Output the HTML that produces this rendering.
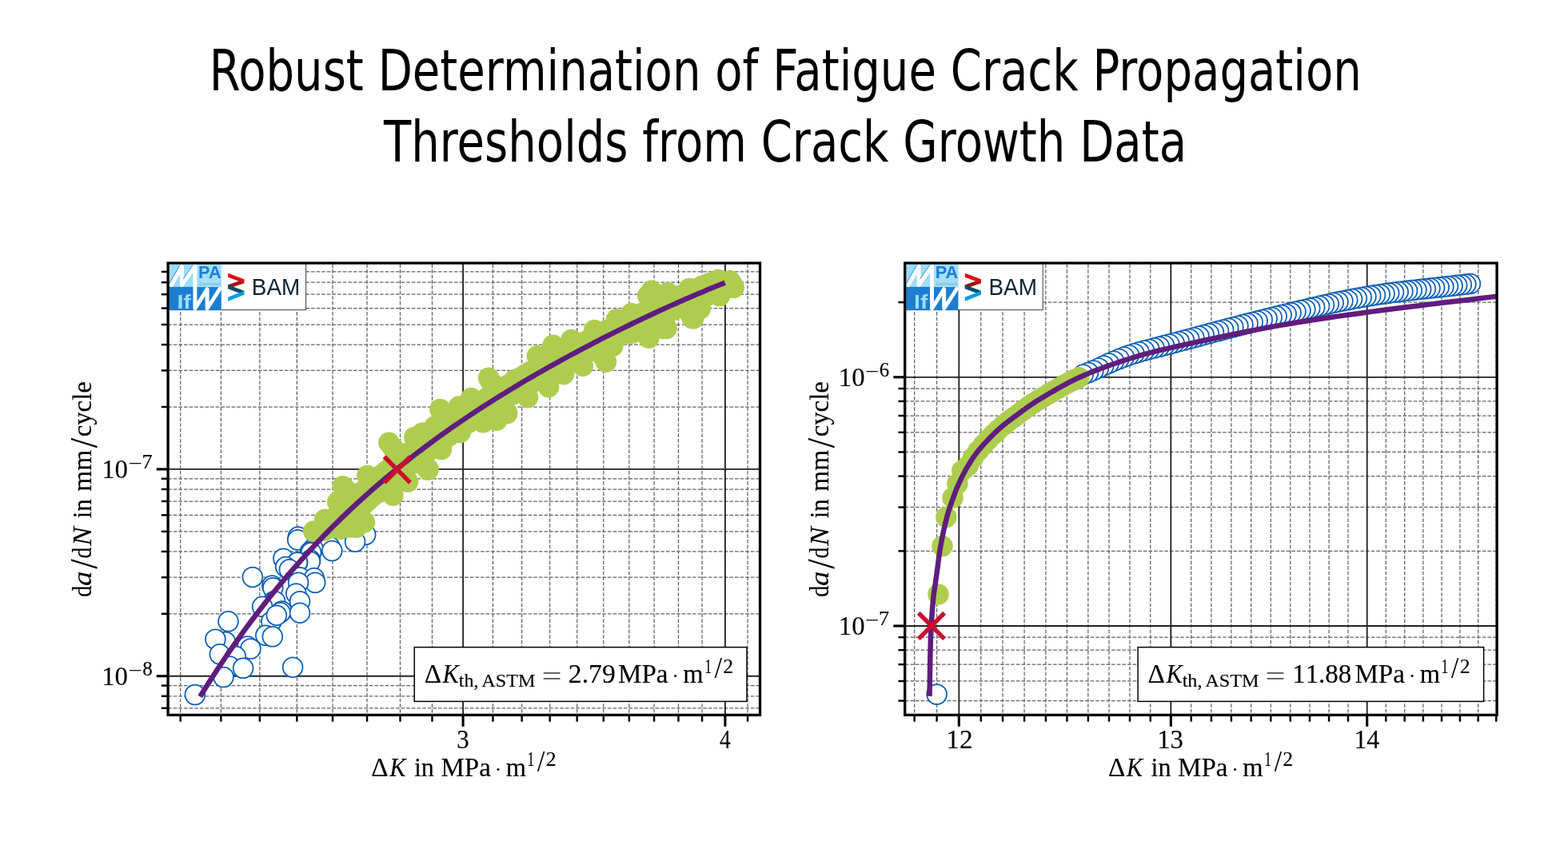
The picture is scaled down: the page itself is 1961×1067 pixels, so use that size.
<!DOCTYPE html>
<html lang="en"><head><meta charset="utf-8"><title>Robust Determination of Fatigue Crack Propagation Thresholds from Crack Growth Data</title>
<style>html,body{margin:0;padding:0;background:#fff;overflow:hidden}svg{display:block}text{white-space:pre}</style></head><body>
<svg width="1961" height="1067" viewBox="0 0 1961 1067" role="img" aria-label="Fatigue crack growth rate plots">
<rect width="1961" height="1067" fill="#fff"/>
<g font-family='"DejaVu Sans", "Liberation Sans", sans-serif' font-size="71" fill="#000">
<text transform="translate(261.72 113.2) scale(0.7901 1)">Robust Determination of Fatigue Crack Propagation</text>
<text transform="translate(480 201.6) scale(0.7898 1)">Thresholds from Crack Growth Data</text>
</g>
<g id="axL">
<svg x="210.1" y="329.05" width="740.4" height="565.35" viewBox="210.1 329.05 740.4 565.35" overflow="hidden">
<g stroke="#626262" stroke-width="1.25" stroke-dasharray="4.625 2" fill="none">
<path d="M225.69 894.4V329.05" stroke-dashoffset="3.825"/>
<path d="M276.34 894.4V329.05" stroke-dashoffset="3.825"/>
<path d="M324.84 894.4V329.05" stroke-dashoffset="3.825"/>
<path d="M371.35 894.4V329.05" stroke-dashoffset="3.825"/>
<path d="M416.04 894.4V329.05" stroke-dashoffset="3.825"/>
<path d="M459.05 894.4V329.05" stroke-dashoffset="3.825"/>
<path d="M500.49 894.4V329.05" stroke-dashoffset="3.825"/>
<path d="M540.47 894.4V329.05" stroke-dashoffset="3.825"/>
<path d="M616.46 894.4V329.05" stroke-dashoffset="3.825"/>
<path d="M652.64 894.4V329.05" stroke-dashoffset="3.825"/>
<path d="M687.7 894.4V329.05" stroke-dashoffset="3.825"/>
<path d="M721.72 894.4V329.05" stroke-dashoffset="3.825"/>
<path d="M754.75 894.4V329.05" stroke-dashoffset="3.825"/>
<path d="M786.85 894.4V329.05" stroke-dashoffset="3.825"/>
<path d="M818.07 894.4V329.05" stroke-dashoffset="3.825"/>
<path d="M848.46 894.4V329.05" stroke-dashoffset="3.825"/>
<path d="M878.05 894.4V329.05" stroke-dashoffset="3.825"/>
<path d="M935.04 894.4V329.05" stroke-dashoffset="3.825"/>
<path d="M210.1 885.81H950.5"/>
<path d="M210.1 870.8H950.5"/>
<path d="M210.1 857.56H950.5"/>
<path d="M210.1 767.81H950.5"/>
<path d="M210.1 722.24H950.5"/>
<path d="M210.1 689.91H950.5"/>
<path d="M210.1 664.83H950.5"/>
<path d="M210.1 644.33H950.5"/>
<path d="M210.1 627.01H950.5"/>
<path d="M210.1 612H950.5"/>
<path d="M210.1 598.76H950.5"/>
<path d="M210.1 509.01H950.5"/>
<path d="M210.1 463.44H950.5"/>
<path d="M210.1 431.11H950.5"/>
<path d="M210.1 406.03H950.5"/>
<path d="M210.1 385.53H950.5"/>
<path d="M210.1 368.21H950.5"/>
<path d="M210.1 353.2H950.5"/>
<path d="M210.1 339.96H950.5"/>
</g>
<g stroke="#222222" stroke-width="1.85" fill="none">
<path d="M579.1 894.4V329.05"/>
<path d="M906.9 894.4V329.05"/>
<path d="M210.1 586.92H950.5"/>
<path d="M210.1 845.72H950.5"/>
</g>
<g fill="#fff" stroke="#0b5eb3" stroke-width="1.75">
<circle cx="457.2" cy="668.75" r="12.4"/>
<circle cx="372.8" cy="671.6" r="12.4"/>
<circle cx="372.2" cy="675.3" r="12.4"/>
<circle cx="444.1" cy="677.7" r="12.4"/>
<circle cx="412.2" cy="683.75" r="12.4"/>
<circle cx="391.6" cy="686.6" r="12.4"/>
<circle cx="415.3" cy="689" r="12.4"/>
<circle cx="387.8" cy="690.3" r="12.4"/>
<circle cx="389.1" cy="691.25" r="12.4"/>
<circle cx="354.4" cy="698.75" r="12.4"/>
<circle cx="388.1" cy="700.6" r="12.4"/>
<circle cx="387.8" cy="702.5" r="12.4"/>
<circle cx="372.2" cy="703.4" r="12.4"/>
<circle cx="371.9" cy="703.4" r="12.4"/>
<circle cx="357.2" cy="709.1" r="12.4"/>
<circle cx="361.9" cy="712.3" r="12.4"/>
<circle cx="315.9" cy="721.9" r="12.4"/>
<circle cx="375" cy="722.2" r="12.4"/>
<circle cx="392.8" cy="723.1" r="12.4"/>
<circle cx="394.2" cy="728.75" r="12.4"/>
<circle cx="373.1" cy="728.75" r="12.4"/>
<circle cx="340.3" cy="732.5" r="12.4"/>
<circle cx="341.3" cy="735.3" r="12.4"/>
<circle cx="370.3" cy="742.5" r="12.4"/>
<circle cx="375" cy="752.2" r="12.4"/>
<circle cx="342.2" cy="752.2" r="12.4"/>
<circle cx="344.1" cy="752.2" r="12.4"/>
<circle cx="328.1" cy="758.8" r="12.4"/>
<circle cx="352.5" cy="764.4" r="12.4"/>
<circle cx="350.6" cy="766.3" r="12.4"/>
<circle cx="375" cy="766.7" r="12.4"/>
<circle cx="285.5" cy="777.3" r="12.4"/>
<circle cx="339.4" cy="777.5" r="12.4"/>
<circle cx="345.9" cy="769.7" r="12.4"/>
<circle cx="332.3" cy="794.8" r="12.4"/>
<circle cx="340.8" cy="796.3" r="12.4"/>
<circle cx="282" cy="803" r="12.4"/>
<circle cx="269.4" cy="799.7" r="12.4"/>
<circle cx="309.5" cy="808.5" r="12.4"/>
<circle cx="313.4" cy="811.5" r="12.4"/>
<circle cx="274.8" cy="818.3" r="12.4"/>
<circle cx="294.7" cy="821" r="12.4"/>
<circle cx="287.2" cy="833.4" r="12.4"/>
<circle cx="366.1" cy="834.7" r="12.4"/>
<circle cx="304.1" cy="835.8" r="12.4"/>
<circle cx="279.5" cy="847" r="12.4"/>
<circle cx="243.9" cy="869" r="12.4"/>
</g>
<g fill="#aecd4f" stroke="#aecd4f" stroke-width="1.75">
<circle cx="912.7" cy="351.29" r="12.4"/>
<circle cx="906.7" cy="353.65" r="12.4"/>
<circle cx="900.7" cy="356.04" r="12.4"/>
<circle cx="898.28" cy="350" r="12.4"/>
<circle cx="903.12" cy="362.07" r="12.4"/>
<circle cx="894.7" cy="358.46" r="12.4"/>
<circle cx="892.26" cy="352.43" r="12.4"/>
<circle cx="897.14" cy="364.48" r="12.4"/>
<circle cx="888.7" cy="360.91" r="12.4"/>
<circle cx="886.23" cy="354.89" r="12.4"/>
<circle cx="891.17" cy="366.92" r="12.4"/>
<circle cx="882.7" cy="363.39" r="12.4"/>
<circle cx="880.2" cy="357.38" r="12.4"/>
<circle cx="885.2" cy="369.39" r="12.4"/>
<circle cx="876.7" cy="365.9" r="12.4"/>
<circle cx="874.18" cy="359.9" r="12.4"/>
<circle cx="879.22" cy="371.89" r="12.4"/>
<circle cx="870.7" cy="368.43" r="12.4"/>
<circle cx="868.16" cy="362.45" r="12.4"/>
<circle cx="873.24" cy="374.42" r="12.4"/>
<circle cx="864.7" cy="371" r="12.4"/>
<circle cx="862.13" cy="365.03" r="12.4"/>
<circle cx="867.27" cy="376.97" r="12.4"/>
<circle cx="858.7" cy="373.6" r="12.4"/>
<circle cx="856.11" cy="367.64" r="12.4"/>
<circle cx="861.29" cy="379.56" r="12.4"/>
<circle cx="852.7" cy="376.22" r="12.4"/>
<circle cx="850.09" cy="370.27" r="12.4"/>
<circle cx="855.31" cy="382.17" r="12.4"/>
<circle cx="846.7" cy="378.87" r="12.4"/>
<circle cx="844.06" cy="372.93" r="12.4"/>
<circle cx="849.34" cy="384.81" r="12.4"/>
<circle cx="840.7" cy="381.54" r="12.4"/>
<circle cx="838.04" cy="375.61" r="12.4"/>
<circle cx="843.36" cy="387.48" r="12.4"/>
<circle cx="834.7" cy="384.25" r="12.4"/>
<circle cx="832.02" cy="378.32" r="12.4"/>
<circle cx="837.38" cy="390.17" r="12.4"/>
<circle cx="828.7" cy="386.97" r="12.4"/>
<circle cx="826" cy="381.06" r="12.4"/>
<circle cx="831.4" cy="392.89" r="12.4"/>
<circle cx="822.7" cy="389.73" r="12.4"/>
<circle cx="819.98" cy="383.83" r="12.4"/>
<circle cx="825.42" cy="395.63" r="12.4"/>
<circle cx="816.7" cy="392.51" r="12.4"/>
<circle cx="813.96" cy="386.62" r="12.4"/>
<circle cx="819.44" cy="398.4" r="12.4"/>
<circle cx="810.7" cy="395.31" r="12.4"/>
<circle cx="807.94" cy="389.43" r="12.4"/>
<circle cx="813.46" cy="401.2" r="12.4"/>
<circle cx="804.7" cy="398.15" r="12.4"/>
<circle cx="801.92" cy="392.27" r="12.4"/>
<circle cx="807.48" cy="404.02" r="12.4"/>
<circle cx="798.7" cy="401" r="12.4"/>
<circle cx="795.9" cy="395.14" r="12.4"/>
<circle cx="801.5" cy="406.87" r="12.4"/>
<circle cx="792.7" cy="403.88" r="12.4"/>
<circle cx="789.88" cy="398.03" r="12.4"/>
<circle cx="795.52" cy="409.74" r="12.4"/>
<circle cx="786.7" cy="406.79" r="12.4"/>
<circle cx="783.86" cy="400.94" r="12.4"/>
<circle cx="789.54" cy="412.63" r="12.4"/>
<circle cx="780.7" cy="409.72" r="12.4"/>
<circle cx="777.84" cy="403.89" r="12.4"/>
<circle cx="783.56" cy="415.56" r="12.4"/>
<circle cx="774.7" cy="412.68" r="12.4"/>
<circle cx="771.82" cy="406.85" r="12.4"/>
<circle cx="777.58" cy="418.5" r="12.4"/>
<circle cx="768.7" cy="415.66" r="12.4"/>
<circle cx="765.8" cy="409.84" r="12.4"/>
<circle cx="771.6" cy="421.48" r="12.4"/>
<circle cx="762.7" cy="418.67" r="12.4"/>
<circle cx="759.78" cy="412.86" r="12.4"/>
<circle cx="765.62" cy="424.47" r="12.4"/>
<circle cx="756.7" cy="421.7" r="12.4"/>
<circle cx="753.76" cy="415.9" r="12.4"/>
<circle cx="759.64" cy="427.5" r="12.4"/>
<circle cx="750.7" cy="424.76" r="12.4"/>
<circle cx="747.74" cy="418.97" r="12.4"/>
<circle cx="753.66" cy="430.54" r="12.4"/>
<circle cx="744.7" cy="427.84" r="12.4"/>
<circle cx="741.72" cy="422.07" r="12.4"/>
<circle cx="747.68" cy="433.62" r="12.4"/>
<circle cx="738.7" cy="430.95" r="12.4"/>
<circle cx="735.7" cy="425.19" r="12.4"/>
<circle cx="741.7" cy="436.72" r="12.4"/>
<circle cx="732.7" cy="434.09" r="12.4"/>
<circle cx="729.68" cy="428.34" r="12.4"/>
<circle cx="735.72" cy="439.85" r="12.4"/>
<circle cx="726.7" cy="437.26" r="12.4"/>
<circle cx="723.66" cy="431.51" r="12.4"/>
<circle cx="729.74" cy="443" r="12.4"/>
<circle cx="720.7" cy="440.45" r="12.4"/>
<circle cx="717.64" cy="434.72" r="12.4"/>
<circle cx="723.76" cy="446.18" r="12.4"/>
<circle cx="714.7" cy="443.67" r="12.4"/>
<circle cx="711.62" cy="437.95" r="12.4"/>
<circle cx="717.78" cy="449.39" r="12.4"/>
<circle cx="708.7" cy="446.92" r="12.4"/>
<circle cx="705.6" cy="441.21" r="12.4"/>
<circle cx="711.8" cy="452.63" r="12.4"/>
<circle cx="702.7" cy="450.19" r="12.4"/>
<circle cx="699.57" cy="444.49" r="12.4"/>
<circle cx="705.83" cy="455.89" r="12.4"/>
<circle cx="696.7" cy="453.5" r="12.4"/>
<circle cx="693.55" cy="447.81" r="12.4"/>
<circle cx="699.85" cy="459.19" r="12.4"/>
<circle cx="690.7" cy="456.84" r="12.4"/>
<circle cx="687.53" cy="451.16" r="12.4"/>
<circle cx="693.87" cy="462.51" r="12.4"/>
<circle cx="684.7" cy="460.2" r="12.4"/>
<circle cx="681.51" cy="454.54" r="12.4"/>
<circle cx="687.89" cy="465.86" r="12.4"/>
<circle cx="678.7" cy="463.6" r="12.4"/>
<circle cx="675.49" cy="457.95" r="12.4"/>
<circle cx="681.91" cy="469.25" r="12.4"/>
<circle cx="672.7" cy="467.03" r="12.4"/>
<circle cx="669.46" cy="461.39" r="12.4"/>
<circle cx="675.94" cy="472.66" r="12.4"/>
<circle cx="666.7" cy="470.49" r="12.4"/>
<circle cx="663.44" cy="464.87" r="12.4"/>
<circle cx="669.96" cy="476.11" r="12.4"/>
<circle cx="660.7" cy="473.98" r="12.4"/>
<circle cx="657.42" cy="468.37" r="12.4"/>
<circle cx="663.98" cy="479.59" r="12.4"/>
<circle cx="654.7" cy="477.51" r="12.4"/>
<circle cx="651.39" cy="471.92" r="12.4"/>
<circle cx="658.01" cy="483.11" r="12.4"/>
<circle cx="648.7" cy="481.08" r="12.4"/>
<circle cx="645.37" cy="475.5" r="12.4"/>
<circle cx="652.03" cy="486.66" r="12.4"/>
<circle cx="642.7" cy="484.68" r="12.4"/>
<circle cx="639.34" cy="479.11" r="12.4"/>
<circle cx="646.06" cy="490.24" r="12.4"/>
<circle cx="636.7" cy="488.31" r="12.4"/>
<circle cx="633.32" cy="482.76" r="12.4"/>
<circle cx="640.08" cy="493.86" r="12.4"/>
<circle cx="630.7" cy="491.99" r="12.4"/>
<circle cx="627.29" cy="486.45" r="12.4"/>
<circle cx="634.11" cy="497.52" r="12.4"/>
<circle cx="624.7" cy="495.7" r="12.4"/>
<circle cx="621.27" cy="490.18" r="12.4"/>
<circle cx="628.13" cy="501.22" r="12.4"/>
<circle cx="618.7" cy="499.45" r="12.4"/>
<circle cx="615.24" cy="493.95" r="12.4"/>
<circle cx="622.16" cy="504.95" r="12.4"/>
<circle cx="612.7" cy="503.24" r="12.4"/>
<circle cx="609.21" cy="497.76" r="12.4"/>
<circle cx="616.19" cy="508.73" r="12.4"/>
<circle cx="606.7" cy="507.08" r="12.4"/>
<circle cx="603.19" cy="501.61" r="12.4"/>
<circle cx="610.21" cy="512.54" r="12.4"/>
<circle cx="600.7" cy="510.95" r="12.4"/>
<circle cx="597.16" cy="505.5" r="12.4"/>
<circle cx="604.24" cy="516.4" r="12.4"/>
<circle cx="594.7" cy="514.87" r="12.4"/>
<circle cx="591.13" cy="509.44" r="12.4"/>
<circle cx="598.27" cy="520.31" r="12.4"/>
<circle cx="588.7" cy="518.84" r="12.4"/>
<circle cx="585.1" cy="513.43" r="12.4"/>
<circle cx="592.3" cy="524.25" r="12.4"/>
<circle cx="582.7" cy="522.85" r="12.4"/>
<circle cx="579.07" cy="517.46" r="12.4"/>
<circle cx="586.33" cy="528.25" r="12.4"/>
<circle cx="576.7" cy="526.91" r="12.4"/>
<circle cx="573.04" cy="521.54" r="12.4"/>
<circle cx="580.36" cy="532.29" r="12.4"/>
<circle cx="570.7" cy="531.02" r="12.4"/>
<circle cx="567.01" cy="525.67" r="12.4"/>
<circle cx="574.39" cy="536.38" r="12.4"/>
<circle cx="564.7" cy="535.18" r="12.4"/>
<circle cx="560.98" cy="529.85" r="12.4"/>
<circle cx="568.42" cy="540.51" r="12.4"/>
<circle cx="558.7" cy="539.4" r="12.4"/>
<circle cx="554.95" cy="534.09" r="12.4"/>
<circle cx="562.45" cy="544.7" r="12.4"/>
<circle cx="552.7" cy="543.66" r="12.4"/>
<circle cx="548.92" cy="538.37" r="12.4"/>
<circle cx="556.48" cy="548.95" r="12.4"/>
<circle cx="546.7" cy="547.98" r="12.4"/>
<circle cx="542.89" cy="542.72" r="12.4"/>
<circle cx="550.51" cy="553.24" r="12.4"/>
<circle cx="540.7" cy="552.36" r="12.4"/>
<circle cx="536.85" cy="547.12" r="12.4"/>
<circle cx="544.55" cy="557.6" r="12.4"/>
<circle cx="534.7" cy="556.79" r="12.4"/>
<circle cx="530.82" cy="551.58" r="12.4"/>
<circle cx="538.58" cy="562.01" r="12.4"/>
<circle cx="528.7" cy="561.28" r="12.4"/>
<circle cx="524.79" cy="556.09" r="12.4"/>
<circle cx="532.61" cy="566.47" r="12.4"/>
<circle cx="522.7" cy="565.84" r="12.4"/>
<circle cx="518.75" cy="560.67" r="12.4"/>
<circle cx="526.65" cy="571" r="12.4"/>
<circle cx="516.7" cy="570.46" r="12.4"/>
<circle cx="512.72" cy="565.32" r="12.4"/>
<circle cx="520.68" cy="575.59" r="12.4"/>
<circle cx="510.7" cy="575.14" r="12.4"/>
<circle cx="506.68" cy="570.03" r="12.4"/>
<circle cx="514.72" cy="580.25" r="12.4"/>
<circle cx="504.7" cy="579.88" r="12.4"/>
<circle cx="500.65" cy="574.8" r="12.4"/>
<circle cx="508.75" cy="584.97" r="12.4"/>
<circle cx="498.7" cy="584.7" r="12.4"/>
<circle cx="494.61" cy="579.64" r="12.4"/>
<circle cx="502.79" cy="589.75" r="12.4"/>
<circle cx="492.7" cy="589.58" r="12.4"/>
<circle cx="488.58" cy="584.56" r="12.4"/>
<circle cx="496.82" cy="594.61" r="12.4"/>
<circle cx="486.7" cy="594.54" r="12.4"/>
<circle cx="482.54" cy="589.54" r="12.4"/>
<circle cx="490.86" cy="599.54" r="12.4"/>
<circle cx="480.7" cy="599.57" r="12.4"/>
<circle cx="476.51" cy="594.6" r="12.4"/>
<circle cx="484.89" cy="604.54" r="12.4"/>
<circle cx="474.7" cy="604.67" r="12.4"/>
<circle cx="470.47" cy="599.74" r="12.4"/>
<circle cx="478.93" cy="609.61" r="12.4"/>
<circle cx="468.7" cy="609.86" r="12.4"/>
<circle cx="464.43" cy="604.95" r="12.4"/>
<circle cx="472.97" cy="614.76" r="12.4"/>
<circle cx="462.7" cy="615.12" r="12.4"/>
<circle cx="458.4" cy="610.25" r="12.4"/>
<circle cx="467" cy="619.99" r="12.4"/>
<circle cx="456.7" cy="620.46" r="12.4"/>
<circle cx="452.36" cy="615.62" r="12.4"/>
<circle cx="461.04" cy="625.3" r="12.4"/>
<circle cx="450.7" cy="625.89" r="12.4"/>
<circle cx="446.32" cy="621.08" r="12.4"/>
<circle cx="455.08" cy="630.69" r="12.4"/>
<circle cx="444.7" cy="631.4" r="12.4"/>
<circle cx="440.28" cy="626.63" r="12.4"/>
<circle cx="449.12" cy="636.17" r="12.4"/>
<circle cx="438.7" cy="636.99" r="12.4"/>
<circle cx="434.25" cy="632.26" r="12.4"/>
<circle cx="443.15" cy="641.73" r="12.4"/>
<circle cx="432.7" cy="642.68" r="12.4"/>
<circle cx="428.21" cy="637.98" r="12.4"/>
<circle cx="437.19" cy="647.38" r="12.4"/>
<circle cx="426.7" cy="648.46" r="12.4"/>
<circle cx="422.17" cy="643.8" r="12.4"/>
<circle cx="431.23" cy="653.13" r="12.4"/>
<circle cx="420.7" cy="654.34" r="12.4"/>
<circle cx="416.13" cy="649.71" r="12.4"/>
<circle cx="425.27" cy="658.96" r="12.4"/>
<circle cx="414.7" cy="660.31" r="12.4"/>
<circle cx="895.5" cy="354.5" r="12.4"/>
<circle cx="877.3" cy="358.3" r="12.4"/>
<circle cx="915.66" cy="355.34" r="12.4"/>
<circle cx="917.7" cy="359.75" r="12.4"/>
<circle cx="864.37" cy="365.54" r="12.4"/>
<circle cx="862.1" cy="360.9" r="12.4"/>
<circle cx="823.22" cy="382.08" r="12.4"/>
<circle cx="820.45" cy="375.96" r="12.4"/>
<circle cx="817.67" cy="369.83" r="12.4"/>
<circle cx="814.9" cy="363.7" r="12.4"/>
<circle cx="839.19" cy="376.17" r="12.4"/>
<circle cx="837.14" cy="371.03" r="12.4"/>
<circle cx="835.1" cy="365.9" r="12.4"/>
<circle cx="816.53" cy="384.09" r="12.4"/>
<circle cx="813.42" cy="377.05" r="12.4"/>
<circle cx="810.3" cy="370" r="12.4"/>
<circle cx="897.92" cy="364" r="12.4"/>
<circle cx="900" cy="370" r="12.4"/>
<circle cx="871.35" cy="374.72" r="12.4"/>
<circle cx="873.52" cy="380.36" r="12.4"/>
<circle cx="875.7" cy="386" r="12.4"/>
<circle cx="791.92" cy="397.62" r="12.4"/>
<circle cx="789.6" cy="392.1" r="12.4"/>
<circle cx="857.78" cy="380.79" r="12.4"/>
<circle cx="860.35" cy="386.46" r="12.4"/>
<circle cx="862.93" cy="392.13" r="12.4"/>
<circle cx="865.5" cy="397.8" r="12.4"/>
<circle cx="859.11" cy="380.52" r="12.4"/>
<circle cx="861.74" cy="386.48" r="12.4"/>
<circle cx="864.37" cy="392.44" r="12.4"/>
<circle cx="867" cy="398.4" r="12.4"/>
<circle cx="773.78" cy="405.7" r="12.4"/>
<circle cx="771.1" cy="399.6" r="12.4"/>
<circle cx="826.87" cy="396.5" r="12.4"/>
<circle cx="830.29" cy="403.63" r="12.4"/>
<circle cx="833.7" cy="410.75" r="12.4"/>
<circle cx="823.81" cy="397.34" r="12.4"/>
<circle cx="826.71" cy="404.12" r="12.4"/>
<circle cx="829.6" cy="410.9" r="12.4"/>
<circle cx="746.5" cy="419.16" r="12.4"/>
<circle cx="743.2" cy="413.1" r="12.4"/>
<circle cx="788.96" cy="411.56" r="12.4"/>
<circle cx="791.3" cy="416.3" r="12.4"/>
<circle cx="787.18" cy="411.97" r="12.4"/>
<circle cx="789" cy="416.5" r="12.4"/>
<circle cx="803.32" cy="405.75" r="12.4"/>
<circle cx="806.05" cy="411.4" r="12.4"/>
<circle cx="808.77" cy="417.05" r="12.4"/>
<circle cx="811.5" cy="422.7" r="12.4"/>
<circle cx="719.44" cy="434.85" r="12.4"/>
<circle cx="717.02" cy="429.88" r="12.4"/>
<circle cx="714.6" cy="424.9" r="12.4"/>
<circle cx="698.3" cy="444.45" r="12.4"/>
<circle cx="695.05" cy="438.08" r="12.4"/>
<circle cx="691.8" cy="431.7" r="12.4"/>
<circle cx="763.13" cy="426.47" r="12.4"/>
<circle cx="766.3" cy="432.9" r="12.4"/>
<circle cx="696.1" cy="446.55" r="12.4"/>
<circle cx="693.2" cy="440.88" r="12.4"/>
<circle cx="690.3" cy="435.2" r="12.4"/>
<circle cx="678.08" cy="456.54" r="12.4"/>
<circle cx="674.94" cy="450.92" r="12.4"/>
<circle cx="671.8" cy="445.3" r="12.4"/>
<circle cx="748.02" cy="434.02" r="12.4"/>
<circle cx="751.31" cy="440.22" r="12.4"/>
<circle cx="754.61" cy="446.41" r="12.4"/>
<circle cx="757.9" cy="452.6" r="12.4"/>
<circle cx="722.51" cy="446.69" r="12.4"/>
<circle cx="725.71" cy="452.2" r="12.4"/>
<circle cx="728.9" cy="457.7" r="12.4"/>
<circle cx="700.18" cy="460.12" r="12.4"/>
<circle cx="703.9" cy="466.6" r="12.4"/>
<circle cx="699.31" cy="458.45" r="12.4"/>
<circle cx="702.15" cy="463.28" r="12.4"/>
<circle cx="705" cy="468.1" r="12.4"/>
<circle cx="621.79" cy="489.67" r="12.4"/>
<circle cx="618.22" cy="484.05" r="12.4"/>
<circle cx="614.66" cy="478.42" r="12.4"/>
<circle cx="611.1" cy="472.8" r="12.4"/>
<circle cx="643.1" cy="475.3" r="12.4"/>
<circle cx="678.62" cy="471.89" r="12.4"/>
<circle cx="682.36" cy="477.99" r="12.4"/>
<circle cx="686.1" cy="484.1" r="12.4"/>
<circle cx="652.98" cy="486.11" r="12.4"/>
<circle cx="656.49" cy="491.6" r="12.4"/>
<circle cx="660" cy="497.1" r="12.4"/>
<circle cx="595.49" cy="507.55" r="12.4"/>
<circle cx="592.29" cy="502.82" r="12.4"/>
<circle cx="589.1" cy="498.1" r="12.4"/>
<circle cx="580.29" cy="517.74" r="12.4"/>
<circle cx="577.15" cy="513.12" r="12.4"/>
<circle cx="574" cy="508.5" r="12.4"/>
<circle cx="561.85" cy="528.86" r="12.4"/>
<circle cx="558.03" cy="523.21" r="12.4"/>
<circle cx="554.22" cy="517.55" r="12.4"/>
<circle cx="550.4" cy="511.9" r="12.4"/>
<circle cx="625.76" cy="504.11" r="12.4"/>
<circle cx="629.98" cy="510.56" r="12.4"/>
<circle cx="634.2" cy="517" r="12.4"/>
<circle cx="612.96" cy="512.37" r="12.4"/>
<circle cx="617.08" cy="519.03" r="12.4"/>
<circle cx="621.2" cy="525.7" r="12.4"/>
<circle cx="598.01" cy="519.28" r="12.4"/>
<circle cx="601.16" cy="523.79" r="12.4"/>
<circle cx="604.3" cy="528.3" r="12.4"/>
<circle cx="547.7" cy="538.94" r="12.4"/>
<circle cx="543.7" cy="533.5" r="12.4"/>
<circle cx="572.54" cy="536.39" r="12.4"/>
<circle cx="575.6" cy="540.9" r="12.4"/>
<circle cx="534.62" cy="550.17" r="12.4"/>
<circle cx="531.51" cy="545.78" r="12.4"/>
<circle cx="528.4" cy="541.4" r="12.4"/>
<circle cx="525.36" cy="556.46" r="12.4"/>
<circle cx="521.88" cy="551.73" r="12.4"/>
<circle cx="518.4" cy="547" r="12.4"/>
<circle cx="501.08" cy="572.58" r="12.4"/>
<circle cx="496.19" cy="566.29" r="12.4"/>
<circle cx="491.29" cy="559.99" r="12.4"/>
<circle cx="486.4" cy="553.7" r="12.4"/>
<circle cx="545.17" cy="556.12" r="12.4"/>
<circle cx="548.8" cy="560.5" r="12.4"/>
<circle cx="548.04" cy="555.95" r="12.4"/>
<circle cx="552" cy="562" r="12.4"/>
<circle cx="523.83" cy="572.71" r="12.4"/>
<circle cx="527.72" cy="577.48" r="12.4"/>
<circle cx="531.61" cy="582.24" r="12.4"/>
<circle cx="535.5" cy="587" r="12.4"/>
<circle cx="523.78" cy="572.84" r="12.4"/>
<circle cx="527.62" cy="577.73" r="12.4"/>
<circle cx="531.46" cy="582.61" r="12.4"/>
<circle cx="535.3" cy="587.5" r="12.4"/>
<circle cx="466.74" cy="603.91" r="12.4"/>
<circle cx="463.07" cy="599.46" r="12.4"/>
<circle cx="459.4" cy="595" r="12.4"/>
<circle cx="501.39" cy="591.54" r="12.4"/>
<circle cx="505.69" cy="597.07" r="12.4"/>
<circle cx="510" cy="602.6" r="12.4"/>
<circle cx="442.92" cy="623.62" r="12.4"/>
<circle cx="438.28" cy="618.48" r="12.4"/>
<circle cx="433.64" cy="613.34" r="12.4"/>
<circle cx="429" cy="608.2" r="12.4"/>
<circle cx="481.64" cy="608.44" r="12.4"/>
<circle cx="486.52" cy="613.97" r="12.4"/>
<circle cx="491.4" cy="619.5" r="12.4"/>
<circle cx="430.67" cy="636.38" r="12.4"/>
<circle cx="426.49" cy="632.14" r="12.4"/>
<circle cx="422.3" cy="627.9" r="12.4"/>
<circle cx="411.05" cy="654.5" r="12.4"/>
<circle cx="406.3" cy="649.8" r="12.4"/>
<circle cx="445.29" cy="641.62" r="12.4"/>
<circle cx="450.65" cy="647.41" r="12.4"/>
<circle cx="456" cy="653.2" r="12.4"/>
<circle cx="432.37" cy="653.67" r="12.4"/>
<circle cx="437.5" cy="659.4" r="12.4"/>
<circle cx="436" cy="649.34" r="12.4"/>
<circle cx="440.95" cy="654.42" r="12.4"/>
<circle cx="445.9" cy="659.5" r="12.4"/>
<circle cx="422.61" cy="658.55" r="12.4"/>
<circle cx="425.6" cy="661.7" r="12.4"/>
<circle cx="405.4" cy="663.55" r="12.4"/>
<circle cx="398.8" cy="664.08" r="12.4"/>
<circle cx="392.2" cy="664.6" r="12.4"/>
</g>
<path d="M250.2 871.39L255.72 862.51L261.23 853.78L266.75 845.2L272.27 836.75L277.78 828.45L283.3 820.28L288.82 812.25L294.33 804.34L299.85 796.57L305.37 788.93L310.88 781.41L316.4 774.01L321.92 766.73L327.44 759.57L332.95 752.53L338.47 745.6L343.99 738.78L349.5 732.07L355.02 725.47L360.54 718.97L366.05 712.58L371.57 706.28L377.09 700.08L382.6 693.98L388.12 687.98L393.64 682.07L399.15 676.24L404.67 670.51L410.19 664.86L415.7 659.3L421.22 653.82L426.74 648.43L432.25 643.11L437.77 637.87L443.29 632.71L448.81 627.62L454.32 622.6L459.84 617.65L465.36 612.78L470.87 607.97L476.39 603.23L481.91 598.55L487.42 593.94L492.94 589.39L498.46 584.9L503.97 580.46L509.49 576.09L515.01 571.77L520.52 567.51L526.04 563.3L531.56 559.14L537.07 555.03L542.59 550.97L548.11 546.96L553.62 543L559.14 539.08L564.66 535.21L570.17 531.39L575.69 527.6L581.21 523.86L586.73 520.16L592.24 516.49L597.76 512.87L603.28 509.28L608.79 505.73L614.31 502.22L619.83 498.74L625.34 495.3L630.86 491.89L636.38 488.51L641.89 485.16L647.41 481.85L652.93 478.56L658.44 475.31L663.96 472.08L669.48 468.88L674.99 465.71L680.51 462.57L686.03 459.45L691.54 456.36L697.06 453.3L702.58 450.26L708.09 447.25L713.61 444.26L719.13 441.29L724.65 438.35L730.16 435.43L735.68 432.53L741.2 429.66L746.71 426.81L752.23 423.98L757.75 421.17L763.26 418.38L768.78 415.62L774.3 412.88L779.81 410.16L785.33 407.46L790.85 404.78L796.36 402.12L801.88 399.48L807.4 396.87L812.91 394.28L818.43 391.7L823.95 389.15L829.46 386.63L834.98 384.12L840.5 381.63L846.02 379.17L851.53 376.73L857.05 374.31L862.57 371.92L868.08 369.55L873.6 367.2L879.12 364.88L884.63 362.58L890.15 360.31L895.67 358.06L901.18 355.84L906.7 353.65" fill="none" stroke="#5f1d7d" stroke-width="6.5" stroke-linejoin="round"/>
<path d="M480.6 571.3L513 603.7M480.6 603.7L513 571.3" fill="none" stroke="#c8102e" stroke-width="5.5"/>
</svg>
<g id="logo">
<rect x="210.1" y="329.05" width="172.5" height="58.6" fill="#fff" stroke="#4d4d4d" stroke-width="1.1"/>
<rect x="211.6" y="330.45" width="65.2" height="28.6" fill="#9edcf8"/>
<rect x="211.6" y="358.85" width="65.2" height="29.0" fill="#1c7ed0"/>
<rect x="243.8" y="330.45" width="33.0" height="28.6" fill="#a4def9"/>
<path d="M214.4 356.65L227.5 333.45L227.5 356.65L243.9 333.05L243.9 386.05L259.1 361.65L259.1 386.05L275 361.25" stroke="#fff" stroke-width="4.9" fill="none" stroke-linejoin="round" stroke-linecap="round"/>
<path d="M211.5 355.05L224.6 331.85M228.8 349.25L241.1 331.45" stroke="#3592de" stroke-width="0.9" fill="none"/>
<text x="248.1" y="347.65" font-family='"Liberation Sans", "DejaVu Sans", sans-serif' font-weight="bold" font-size="21.3" fill="#1c7ed0" textLength="28.6" lengthAdjust="spacingAndGlyphs">PA</text>
<text x="249.4" y="357.25" font-family='"Liberation Sans", "DejaVu Sans", sans-serif' font-size="5.4" fill="#6fb2e6" textLength="27" lengthAdjust="spacingAndGlyphs">Darmstadt</text>
<text x="221.4" y="386.45" font-family='"Liberation Sans", "DejaVu Sans", sans-serif' font-weight="bold" font-size="24.5" fill="#9edcf8" textLength="17.5" lengthAdjust="spacingAndGlyphs">If</text>
<path d="M305.3 349.25L305.3 354.15L285.2 361.25L285.2 356.35Z" fill="#9b1915"/>
<path d="M285.2 341.85L305.3 349.25L305.3 354.15L285.2 346.75Z" fill="#e30613"/>
<path d="M285.2 356.35L305.3 363.75L305.3 368.75L285.2 361.25Z" fill="#004f6b"/>
<path d="M305.3 363.75L305.3 368.75L285.2 376.75L285.2 371.85Z" fill="#009ee0"/>
<text x="314.8" y="369.35" font-family='"Liberation Sans", "DejaVu Sans", sans-serif' font-size="29.2" fill="#0b2532" textLength="60.5" lengthAdjust="spacingAndGlyphs">BAM</text>
</g>
<rect x="518.25" y="809.6" width="415.75" height="67.8" fill="#fff" stroke="#000" stroke-width="1.5"/>
<g font-family='"Liberation Serif", "DejaVu Serif", serif' fill="#000" stroke="#000" stroke-width="0.14" style="font-kerning:none">
<text transform="translate(530.68 853.7) scale(1.0156 1)" font-size="32.8">Δ</text>
<text transform="translate(553.61 853.7) scale(0.9294 1)" font-size="32.8" font-style="italic">K</text>
<text transform="translate(573.81 858.9) scale(1.0118 1)" font-size="23.8">th,</text>
<text transform="translate(602.31 858.9) scale(1.0185 1)" font-size="23.8">ASTM</text>
<text transform="translate(677.27 857.4) scale(1.3955 1)" font-size="32.8" stroke="#fff" stroke-width="0.36">=</text>
<text transform="translate(710.82 853.7) scale(1.0088 1)" font-size="33.4">2.79</text>
<text transform="translate(773.05 853.7) scale(1.0087 1)" font-size="32.8">MPa</text>
<text transform="translate(840.33 854.1) scale(1.0090 1)" font-size="26">·</text>
<text transform="translate(854.32 853.7) scale(0.9913 1)" font-size="32.8">m</text>
<text transform="translate(881.15 841.5) scale(0.7016 1)" font-size="25.1">1</text>
<text transform="translate(893.13 845.04) scale(1.0246 1)" font-family='"DejaVu Sans", "Liberation Sans", sans-serif' font-weight="200" font-size="29.69">/</text>
<text transform="translate(904.37 841.5) scale(1.0236 1)" font-size="25.1">2</text>
</g>
<rect x="210.1" y="329.05" width="740.4" height="565.35" fill="none" stroke="#000" stroke-width="3.3" stroke-linejoin="miter"/>
<g stroke="#000" stroke-width="2.45" fill="none">
<path d="M225.69 894.4v8.3"/>
<path d="M276.34 894.4v8.3"/>
<path d="M324.84 894.4v8.3"/>
<path d="M371.35 894.4v8.3"/>
<path d="M416.04 894.4v8.3"/>
<path d="M459.05 894.4v8.3"/>
<path d="M500.49 894.4v8.3"/>
<path d="M540.47 894.4v8.3"/>
<path d="M616.46 894.4v8.3"/>
<path d="M652.64 894.4v8.3"/>
<path d="M687.7 894.4v8.3"/>
<path d="M721.72 894.4v8.3"/>
<path d="M754.75 894.4v8.3"/>
<path d="M786.85 894.4v8.3"/>
<path d="M818.07 894.4v8.3"/>
<path d="M848.46 894.4v8.3"/>
<path d="M878.05 894.4v8.3"/>
<path d="M935.04 894.4v8.3"/>
<path d="M210.1 885.81h-8.3"/>
<path d="M210.1 870.8h-8.3"/>
<path d="M210.1 857.56h-8.3"/>
<path d="M210.1 767.81h-8.3"/>
<path d="M210.1 722.24h-8.3"/>
<path d="M210.1 689.91h-8.3"/>
<path d="M210.1 664.83h-8.3"/>
<path d="M210.1 644.33h-8.3"/>
<path d="M210.1 627.01h-8.3"/>
<path d="M210.1 612h-8.3"/>
<path d="M210.1 598.76h-8.3"/>
<path d="M210.1 509.01h-8.3"/>
<path d="M210.1 463.44h-8.3"/>
<path d="M210.1 431.11h-8.3"/>
<path d="M210.1 406.03h-8.3"/>
<path d="M210.1 385.53h-8.3"/>
<path d="M210.1 368.21h-8.3"/>
<path d="M210.1 353.2h-8.3"/>
<path d="M210.1 339.96h-8.3"/>
</g>
<g stroke="#000" stroke-width="3.1" fill="none">
<path d="M579.1 894.4v14.4"/>
<path d="M906.9 894.4v14.4"/>
<path d="M210.1 586.92h-14.4"/>
<path d="M210.1 845.72h-14.4"/>
</g>
<g font-family='"Liberation Serif", "DejaVu Serif", serif' fill="#000" stroke="#000" stroke-width="0.14" style="font-kerning:none">
<text transform="translate(571.22 936.1) scale(0.9060 1)" font-size="34.2">3</text>
<text transform="translate(899.96 936.1) scale(0.8052 1)" font-size="34.2">4</text>
<text transform="translate(127.21 598.22) scale(0.9715 1)" font-size="33.8">10</text>
<text transform="translate(160.7 588.22) scale(1.1986 1)" font-size="25.1">−</text>
<text transform="translate(177.38 586.02) scale(1.0420 1)" font-size="25.1">7</text>
<text transform="translate(127.21 857.02) scale(0.9715 1)" font-size="33.8">10</text>
<text transform="translate(160.7 847.02) scale(1.1986 1)" font-size="25.1">−</text>
<text transform="translate(178.15 844.82) scale(0.9964 1)" font-size="25.1">8</text>
</g>
<g font-family='"Liberation Serif", "DejaVu Serif", serif' fill="#000" stroke="#000" stroke-width="0.14" style="font-kerning:none">
<text transform="translate(464.33 970.6) scale(1.0156 1)" font-size="32.8">Δ</text>
<text transform="translate(487.26 970.6) scale(0.9294 1)" font-size="32.8" font-style="italic">K</text>
<text transform="translate(517.92 970.6) scale(0.9824 1)" font-size="32.8">in</text>
<text transform="translate(551.45 970.6) scale(1.0087 1)" font-size="32.8">MPa</text>
<text transform="translate(618.73 971) scale(1.0090 1)" font-size="26">·</text>
<text transform="translate(632.72 970.6) scale(0.9913 1)" font-size="32.8">m</text>
<text transform="translate(659.55 958.4) scale(0.7016 1)" font-size="25.1">1</text>
<text transform="translate(671.53 961.94) scale(1.0246 1)" font-family='"DejaVu Sans", "Liberation Sans", sans-serif' font-weight="200" font-size="29.69">/</text>
<text transform="translate(682.77 958.4) scale(1.0236 1)" font-size="25.1">2</text>
</g>
<g font-family='"Liberation Serif", "DejaVu Serif", serif' fill="#000" stroke="#000" stroke-width="0.14" style="font-kerning:none" transform="translate(114.2 746.4) rotate(-90)">
<text transform="translate(-0.42 0) scale(0.8640 1)" font-size="32.8">d</text>
<text transform="translate(13.5 0) scale(1.1276 1)" font-size="32.8" font-style="italic">a</text>
<text transform="translate(34.29 3.85) scale(0.9987 1)" font-family='"DejaVu Sans", "Liberation Sans", sans-serif' font-weight="200" font-size="39.3">/</text>
<text transform="translate(47.89 0) scale(0.8505 1)" font-size="32.8">d</text>
<text transform="translate(63.76 0) scale(1.0830 1)" font-size="32.8" font-style="italic">N</text>
<text transform="translate(98.05 0) scale(0.9372 1)" font-size="32.8">in</text>
<text transform="translate(131.7 0) scale(1.0216 1)" font-size="32.8">mm</text>
<text transform="translate(185.68 3.85) scale(1.0071 1)" font-family='"DejaVu Sans", "Liberation Sans", sans-serif' font-weight="200" font-size="39.3">/</text>
<text transform="translate(200.05 0) scale(1.0000 1)" font-size="32.8">cycle</text>
</g>
</g>
<g id="axR">
<svg x="1131.7" y="329.05" width="740.4" height="565.35" viewBox="1131.7 329.05 740.4 565.35" overflow="hidden">
<g stroke="#626262" stroke-width="1.25" stroke-dasharray="4.625 2" fill="none">
<path d="M1143.65 894.4V329.05" stroke-dashoffset="3.825"/>
<path d="M1171.59 894.4V329.05" stroke-dashoffset="3.825"/>
<path d="M1226.78 894.4V329.05" stroke-dashoffset="3.825"/>
<path d="M1254.03 894.4V329.05" stroke-dashoffset="3.825"/>
<path d="M1281.06 894.4V329.05" stroke-dashoffset="3.825"/>
<path d="M1307.87 894.4V329.05" stroke-dashoffset="3.825"/>
<path d="M1334.46 894.4V329.05" stroke-dashoffset="3.825"/>
<path d="M1360.85 894.4V329.05" stroke-dashoffset="3.825"/>
<path d="M1387.02 894.4V329.05" stroke-dashoffset="3.825"/>
<path d="M1412.99 894.4V329.05" stroke-dashoffset="3.825"/>
<path d="M1438.76 894.4V329.05" stroke-dashoffset="3.825"/>
<path d="M1489.7 894.4V329.05" stroke-dashoffset="3.825"/>
<path d="M1514.88 894.4V329.05" stroke-dashoffset="3.825"/>
<path d="M1539.87 894.4V329.05" stroke-dashoffset="3.825"/>
<path d="M1564.67 894.4V329.05" stroke-dashoffset="3.825"/>
<path d="M1589.29 894.4V329.05" stroke-dashoffset="3.825"/>
<path d="M1613.72 894.4V329.05" stroke-dashoffset="3.825"/>
<path d="M1637.98 894.4V329.05" stroke-dashoffset="3.825"/>
<path d="M1662.06 894.4V329.05" stroke-dashoffset="3.825"/>
<path d="M1685.97 894.4V329.05" stroke-dashoffset="3.825"/>
<path d="M1733.27 894.4V329.05" stroke-dashoffset="3.825"/>
<path d="M1756.67 894.4V329.05" stroke-dashoffset="3.825"/>
<path d="M1779.9 894.4V329.05" stroke-dashoffset="3.825"/>
<path d="M1802.98 894.4V329.05" stroke-dashoffset="3.825"/>
<path d="M1825.89 894.4V329.05" stroke-dashoffset="3.825"/>
<path d="M1848.65 894.4V329.05" stroke-dashoffset="3.825"/>
<path d="M1871.25 894.4V329.05" stroke-dashoffset="3.825"/>
<path d="M1131.7 876.62H1872.1"/>
<path d="M1131.7 851.98H1872.1"/>
<path d="M1131.7 831.15H1872.1"/>
<path d="M1131.7 813.1H1872.1"/>
<path d="M1131.7 797.19H1872.1"/>
<path d="M1131.7 689.28H1872.1"/>
<path d="M1131.7 634.49H1872.1"/>
<path d="M1131.7 595.62H1872.1"/>
<path d="M1131.7 565.47H1872.1"/>
<path d="M1131.7 540.83H1872.1"/>
<path d="M1131.7 520H1872.1"/>
<path d="M1131.7 501.95H1872.1"/>
<path d="M1131.7 486.04H1872.1"/>
<path d="M1131.7 378.13H1872.1"/>
</g>
<g stroke="#222222" stroke-width="1.85" fill="none">
<path d="M1199.3 894.4V329.05"/>
<path d="M1464.33 894.4V329.05"/>
<path d="M1709.7 894.4V329.05"/>
<path d="M1131.7 471.8H1872.1"/>
<path d="M1131.7 782.95H1872.1"/>
</g>
<g fill="#fff" stroke="#0b5eb3" stroke-width="1.75">
<circle cx="1838.88" cy="354.9" r="12.4"/>
<circle cx="1833.32" cy="355.57" r="12.4"/>
<circle cx="1827.74" cy="356.23" r="12.4"/>
<circle cx="1822.16" cy="356.86" r="12.4"/>
<circle cx="1816.56" cy="357.49" r="12.4"/>
<circle cx="1810.96" cy="358.11" r="12.4"/>
<circle cx="1805.35" cy="358.73" r="12.4"/>
<circle cx="1799.72" cy="359.33" r="12.4"/>
<circle cx="1794.09" cy="359.94" r="12.4"/>
<circle cx="1788.45" cy="360.55" r="12.4"/>
<circle cx="1782.8" cy="361.17" r="12.4"/>
<circle cx="1777.14" cy="361.79" r="12.4"/>
<circle cx="1771.47" cy="362.42" r="12.4"/>
<circle cx="1765.78" cy="363.07" r="12.4"/>
<circle cx="1760.09" cy="363.73" r="12.4"/>
<circle cx="1754.39" cy="364.41" r="12.4"/>
<circle cx="1748.68" cy="365.11" r="12.4"/>
<circle cx="1742.96" cy="365.84" r="12.4"/>
<circle cx="1737.23" cy="366.6" r="12.4"/>
<circle cx="1731.5" cy="367.38" r="12.4"/>
<circle cx="1725.75" cy="368.22" r="12.4"/>
<circle cx="1719.99" cy="369.07" r="12.4"/>
<circle cx="1714.22" cy="370" r="12.4"/>
<circle cx="1708.44" cy="370.96" r="12.4"/>
<circle cx="1702.65" cy="371.97" r="12.4"/>
<circle cx="1696.85" cy="373.02" r="12.4"/>
<circle cx="1691.04" cy="374.11" r="12.4"/>
<circle cx="1685.22" cy="375.25" r="12.4"/>
<circle cx="1679.39" cy="376.41" r="12.4"/>
<circle cx="1673.55" cy="377.63" r="12.4"/>
<circle cx="1667.69" cy="378.87" r="12.4"/>
<circle cx="1661.83" cy="380.15" r="12.4"/>
<circle cx="1655.96" cy="381.46" r="12.4"/>
<circle cx="1650.08" cy="382.79" r="12.4"/>
<circle cx="1644.19" cy="384.16" r="12.4"/>
<circle cx="1638.28" cy="385.54" r="12.4"/>
<circle cx="1632.37" cy="386.94" r="12.4"/>
<circle cx="1626.44" cy="388.36" r="12.4"/>
<circle cx="1620.51" cy="389.79" r="12.4"/>
<circle cx="1614.56" cy="391.23" r="12.4"/>
<circle cx="1608.61" cy="392.67" r="12.4"/>
<circle cx="1602.64" cy="394.12" r="12.4"/>
<circle cx="1596.66" cy="395.57" r="12.4"/>
<circle cx="1590.67" cy="397.02" r="12.4"/>
<circle cx="1584.67" cy="398.48" r="12.4"/>
<circle cx="1578.66" cy="399.97" r="12.4"/>
<circle cx="1572.64" cy="401.48" r="12.4"/>
<circle cx="1566.61" cy="403.01" r="12.4"/>
<circle cx="1560.56" cy="404.55" r="12.4"/>
<circle cx="1554.51" cy="406.11" r="12.4"/>
<circle cx="1548.44" cy="407.68" r="12.4"/>
<circle cx="1542.37" cy="409.26" r="12.4"/>
<circle cx="1536.28" cy="410.86" r="12.4"/>
<circle cx="1530.18" cy="412.46" r="12.4"/>
<circle cx="1524.07" cy="414.08" r="12.4"/>
<circle cx="1517.95" cy="415.7" r="12.4"/>
<circle cx="1511.82" cy="417.33" r="12.4"/>
<circle cx="1505.67" cy="418.97" r="12.4"/>
<circle cx="1499.52" cy="420.62" r="12.4"/>
<circle cx="1493.35" cy="422.27" r="12.4"/>
<circle cx="1487.17" cy="423.92" r="12.4"/>
<circle cx="1480.98" cy="425.57" r="12.4"/>
<circle cx="1474.78" cy="427.23" r="12.4"/>
<circle cx="1468.56" cy="428.88" r="12.4"/>
<circle cx="1462.34" cy="430.52" r="12.4"/>
<circle cx="1456.1" cy="432.14" r="12.4"/>
<circle cx="1449.85" cy="433.74" r="12.4"/>
<circle cx="1443.59" cy="435.35" r="12.4"/>
<circle cx="1437.32" cy="436.96" r="12.4"/>
<circle cx="1431.04" cy="438.62" r="12.4"/>
<circle cx="1424.74" cy="440.38" r="12.4"/>
<circle cx="1418.43" cy="442.25" r="12.4"/>
<circle cx="1412.11" cy="444.29" r="12.4"/>
<circle cx="1405.78" cy="446.51" r="12.4"/>
<circle cx="1399.43" cy="448.99" r="12.4"/>
<circle cx="1393.08" cy="451.66" r="12.4"/>
<circle cx="1386.71" cy="454.5" r="12.4"/>
<circle cx="1380.33" cy="457.45" r="12.4"/>
<circle cx="1373.93" cy="460.46" r="12.4"/>
<circle cx="1367.53" cy="463.4" r="12.4"/>
<circle cx="1361.11" cy="466.11" r="12.4"/>
<circle cx="1354.68" cy="468.59" r="12.4"/>
<circle cx="1171.6" cy="868.5" r="12.4"/>
</g>
<g fill="#aecd4f" stroke="#aecd4f" stroke-width="1.75">
<circle cx="1349.4" cy="472.28" r="12.4"/>
<circle cx="1343.1" cy="475.28" r="12.4"/>
<circle cx="1336.8" cy="478.46" r="12.4"/>
<circle cx="1330.5" cy="481.81" r="12.4"/>
<circle cx="1324.2" cy="485.3" r="12.4"/>
<circle cx="1317.9" cy="488.91" r="12.4"/>
<circle cx="1311.6" cy="492.62" r="12.4"/>
<circle cx="1305.3" cy="496.4" r="12.4"/>
<circle cx="1299" cy="500.21" r="12.4"/>
<circle cx="1292.7" cy="504.18" r="12.4"/>
<circle cx="1286.4" cy="508.41" r="12.4"/>
<circle cx="1280.1" cy="512.9" r="12.4"/>
<circle cx="1273.8" cy="517.57" r="12.4"/>
<circle cx="1267.5" cy="522.25" r="12.4"/>
<circle cx="1261.2" cy="526.97" r="12.4"/>
<circle cx="1254.9" cy="531.94" r="12.4"/>
<circle cx="1248.6" cy="537.4" r="12.4"/>
<circle cx="1242.3" cy="543.38" r="12.4"/>
<circle cx="1236" cy="549.78" r="12.4"/>
<circle cx="1229.7" cy="556.58" r="12.4"/>
<circle cx="1223.4" cy="563.95" r="12.4"/>
<circle cx="1217.1" cy="572.42" r="12.4"/>
<circle cx="1210.8" cy="582.37" r="12.4"/>
<circle cx="1203.3" cy="588.9" r="12.4"/>
<circle cx="1197.4" cy="605" r="12.4"/>
<circle cx="1191.5" cy="622.7" r="12.4"/>
<circle cx="1183.4" cy="646.8" r="12.4"/>
<circle cx="1178.5" cy="683.1" r="12.4"/>
<circle cx="1173.5" cy="743.4" r="12.4"/>
</g>
<path d="M1162.5 870.9L1162.58 866.17L1162.66 861.31L1162.75 856.36L1162.83 851.38L1162.91 846.4L1162.99 841.46L1163.07 836.6L1163.15 831.86L1163.24 827.29L1163.32 822.93L1163.41 818.82L1163.5 815L1163.59 811.5L1163.67 808.3L1163.76 805.34L1163.84 802.6L1163.93 800.02L1164.01 797.57L1164.1 795.19L1164.2 792.86L1164.31 790.51L1164.43 788.11L1164.56 785.63L1164.7 783L1164.85 780.28L1165.01 777.52L1165.18 774.75L1165.35 771.96L1165.53 769.17L1165.72 766.38L1165.92 763.59L1166.13 760.81L1166.35 758.06L1166.59 755.34L1166.84 752.65L1167.1 750L1167.38 747.42L1167.67 744.9L1167.98 742.44L1168.3 740.02L1168.64 737.62L1168.98 735.22L1169.33 732.81L1169.7 730.37L1170.06 727.89L1170.44 725.34L1170.82 722.72L1171.2 720L1171.58 717.18L1171.96 714.28L1172.35 711.31L1172.73 708.28L1173.13 705.2L1173.53 702.09L1173.95 698.97L1174.38 695.83L1174.83 692.71L1175.29 689.6L1175.78 686.53L1176.3 683.5L1176.85 680.47L1177.42 677.39L1178.02 674.28L1178.65 671.15L1179.29 668.03L1179.94 664.94L1180.61 661.9L1181.27 658.91L1181.94 656.01L1182.6 653.22L1183.26 650.54L1183.9 648L1184.53 645.6L1185.17 643.33L1185.8 641.16L1186.43 639.1L1187.07 637.11L1187.7 635.19L1188.33 633.33L1188.97 631.51L1189.6 629.73L1190.23 627.95L1190.87 626.18L1191.5 624.4L1192.12 622.65L1192.72 620.96L1193.3 619.33L1193.88 617.75L1194.45 616.19L1195.04 614.65L1195.64 613.11L1196.26 611.56L1196.9 609.99L1197.59 608.38L1198.32 606.72L1199.1 605L1199.93 603.21L1200.8 601.37L1201.7 599.48L1202.64 597.56L1203.6 595.61L1204.59 593.65L1205.61 591.69L1206.64 589.73L1207.69 587.8L1208.75 585.89L1209.82 584.02L1210.9 582.2L1211.97 580.44L1213.02 578.72L1214.07 577.05L1215.12 575.4L1216.19 573.77L1217.28 572.15L1218.41 570.53L1219.59 568.89L1220.83 567.23L1222.14 565.53L1223.52 563.79L1225 562L1226.58 560.13L1228.26 558.2L1230.03 556.21L1231.88 554.18L1233.78 552.12L1235.72 550.06L1237.7 548.01L1239.69 545.98L1241.68 543.99L1243.65 542.05L1245.6 540.18L1247.5 538.4L1249.35 536.71L1251.16 535.11L1252.95 533.57L1254.72 532.09L1256.5 530.64L1258.28 529.23L1260.09 527.81L1261.94 526.4L1263.85 524.97L1265.82 523.5L1267.86 521.98L1270 520.4L1272.17 518.79L1274.33 517.17L1276.5 515.56L1278.7 513.93L1280.96 512.28L1283.28 510.6L1285.7 508.89L1288.24 507.14L1290.92 505.34L1293.76 503.49L1296.78 501.58L1300 499.6L1303.43 497.52L1307.06 495.33L1310.86 493.06L1314.81 490.71L1318.91 488.32L1323.12 485.91L1327.45 483.48L1331.85 481.07L1336.33 478.7L1340.86 476.38L1345.42 474.14L1350 472L1354.65 469.92L1359.42 467.88L1364.3 465.86L1369.26 463.87L1374.29 461.92L1379.38 460.01L1384.49 458.14L1389.63 456.31L1394.77 454.53L1399.88 452.8L1404.97 451.12L1410 449.5L1414.8 447.98L1419.27 446.6L1423.53 445.31L1427.67 444.11L1431.82 442.95L1436.08 441.8L1440.55 440.65L1445.35 439.46L1450.58 438.2L1456.37 436.85L1462.8 435.38L1470 433.75L1478.04 431.95L1486.84 430L1496.3 427.93L1506.3 425.76L1516.75 423.52L1527.51 421.25L1538.5 418.96L1549.59 416.7L1560.67 414.48L1571.64 412.34L1582.39 410.3L1592.8 408.4L1602.9 406.62L1612.82 404.93L1622.62 403.31L1632.36 401.74L1642.09 400.23L1651.88 398.75L1661.78 397.3L1671.85 395.85L1682.15 394.4L1692.74 392.93L1703.67 391.44L1715 389.9L1727.24 388.28L1740.63 386.56L1754.86 384.77L1769.64 382.94L1784.65 381.11L1799.57 379.31L1814.1 377.57L1827.94 375.93L1840.76 374.4L1852.27 373.04L1862.15 371.86L1870.1 370.9L1876.01 370.18L1880.15 369.68L1882.78 369.37L1884.16 369.21L1884.52 369.17L1884.12 369.23L1883.23 369.35L1882.08 369.5L1880.93 369.66L1880.03 369.78L1879.64 369.83L1880 369.8" fill="none" stroke="#5f1d7d" stroke-width="6.5" stroke-linejoin="round"/>
<path d="M1148.76 766.7L1181.16 799.1M1148.76 799.1L1181.16 766.7" fill="none" stroke="#c8102e" stroke-width="5.5"/>
</svg>
<g id="logo">
<rect x="1131.7" y="329.05" width="172.5" height="58.6" fill="#fff" stroke="#4d4d4d" stroke-width="1.1"/>
<rect x="1133.2" y="330.45" width="65.2" height="28.6" fill="#9edcf8"/>
<rect x="1133.2" y="358.85" width="65.2" height="29.0" fill="#1c7ed0"/>
<rect x="1165.4" y="330.45" width="33.0" height="28.6" fill="#a4def9"/>
<path d="M1136 356.65L1149.1 333.45L1149.1 356.65L1165.5 333.05L1165.5 386.05L1180.7 361.65L1180.7 386.05L1196.6 361.25" stroke="#fff" stroke-width="4.9" fill="none" stroke-linejoin="round" stroke-linecap="round"/>
<path d="M1133.1 355.05L1146.2 331.85M1150.4 349.25L1162.7 331.45" stroke="#3592de" stroke-width="0.9" fill="none"/>
<text x="1169.7" y="347.65" font-family='"Liberation Sans", "DejaVu Sans", sans-serif' font-weight="bold" font-size="21.3" fill="#1c7ed0" textLength="28.6" lengthAdjust="spacingAndGlyphs">PA</text>
<text x="1171" y="357.25" font-family='"Liberation Sans", "DejaVu Sans", sans-serif' font-size="5.4" fill="#6fb2e6" textLength="27" lengthAdjust="spacingAndGlyphs">Darmstadt</text>
<text x="1143" y="386.45" font-family='"Liberation Sans", "DejaVu Sans", sans-serif' font-weight="bold" font-size="24.5" fill="#9edcf8" textLength="17.5" lengthAdjust="spacingAndGlyphs">If</text>
<path d="M1226.9 349.25L1226.9 354.15L1206.8 361.25L1206.8 356.35Z" fill="#9b1915"/>
<path d="M1206.8 341.85L1226.9 349.25L1226.9 354.15L1206.8 346.75Z" fill="#e30613"/>
<path d="M1206.8 356.35L1226.9 363.75L1226.9 368.75L1206.8 361.25Z" fill="#004f6b"/>
<path d="M1226.9 363.75L1226.9 368.75L1206.8 376.75L1206.8 371.85Z" fill="#009ee0"/>
<text x="1236.4" y="369.35" font-family='"Liberation Sans", "DejaVu Sans", sans-serif' font-size="29.2" fill="#0b2532" textLength="60.5" lengthAdjust="spacingAndGlyphs">BAM</text>
</g>
<rect x="1423.1" y="809.6" width="432.5" height="67.8" fill="#fff" stroke="#000" stroke-width="1.5"/>
<g font-family='"Liberation Serif", "DejaVu Serif", serif' fill="#000" stroke="#000" stroke-width="0.14" style="font-kerning:none">
<text transform="translate(1435.53 853.7) scale(1.0156 1)" font-size="32.8">Δ</text>
<text transform="translate(1458.46 853.7) scale(0.9294 1)" font-size="32.8" font-style="italic">K</text>
<text transform="translate(1478.66 858.9) scale(1.0118 1)" font-size="23.8">th,</text>
<text transform="translate(1507.16 858.9) scale(1.0185 1)" font-size="23.8">ASTM</text>
<text transform="translate(1582.12 857.4) scale(1.3955 1)" font-size="32.8" stroke="#fff" stroke-width="0.36">=</text>
<text transform="translate(1616.21 853.7) scale(0.9853 1)" font-size="33.4">11.88</text>
<text transform="translate(1694.45 853.7) scale(1.0087 1)" font-size="32.8">MPa</text>
<text transform="translate(1761.73 854.1) scale(1.0090 1)" font-size="26">·</text>
<text transform="translate(1775.72 853.7) scale(0.9913 1)" font-size="32.8">m</text>
<text transform="translate(1802.55 841.5) scale(0.7016 1)" font-size="25.1">1</text>
<text transform="translate(1814.53 845.04) scale(1.0246 1)" font-family='"DejaVu Sans", "Liberation Sans", sans-serif' font-weight="200" font-size="29.69">/</text>
<text transform="translate(1825.77 841.5) scale(1.0236 1)" font-size="25.1">2</text>
</g>
<rect x="1131.7" y="329.05" width="740.4" height="565.35" fill="none" stroke="#000" stroke-width="3.3" stroke-linejoin="miter"/>
<g stroke="#000" stroke-width="2.45" fill="none">
<path d="M1143.65 894.4v8.3"/>
<path d="M1171.59 894.4v8.3"/>
<path d="M1226.78 894.4v8.3"/>
<path d="M1254.03 894.4v8.3"/>
<path d="M1281.06 894.4v8.3"/>
<path d="M1307.87 894.4v8.3"/>
<path d="M1334.46 894.4v8.3"/>
<path d="M1360.85 894.4v8.3"/>
<path d="M1387.02 894.4v8.3"/>
<path d="M1412.99 894.4v8.3"/>
<path d="M1438.76 894.4v8.3"/>
<path d="M1489.7 894.4v8.3"/>
<path d="M1514.88 894.4v8.3"/>
<path d="M1539.87 894.4v8.3"/>
<path d="M1564.67 894.4v8.3"/>
<path d="M1589.29 894.4v8.3"/>
<path d="M1613.72 894.4v8.3"/>
<path d="M1637.98 894.4v8.3"/>
<path d="M1662.06 894.4v8.3"/>
<path d="M1685.97 894.4v8.3"/>
<path d="M1733.27 894.4v8.3"/>
<path d="M1756.67 894.4v8.3"/>
<path d="M1779.9 894.4v8.3"/>
<path d="M1802.98 894.4v8.3"/>
<path d="M1825.89 894.4v8.3"/>
<path d="M1848.65 894.4v8.3"/>
<path d="M1871.25 894.4v8.3"/>
<path d="M1131.7 876.62h-8.3"/>
<path d="M1131.7 851.98h-8.3"/>
<path d="M1131.7 831.15h-8.3"/>
<path d="M1131.7 813.1h-8.3"/>
<path d="M1131.7 797.19h-8.3"/>
<path d="M1131.7 689.28h-8.3"/>
<path d="M1131.7 634.49h-8.3"/>
<path d="M1131.7 595.62h-8.3"/>
<path d="M1131.7 565.47h-8.3"/>
<path d="M1131.7 540.83h-8.3"/>
<path d="M1131.7 520h-8.3"/>
<path d="M1131.7 501.95h-8.3"/>
<path d="M1131.7 486.04h-8.3"/>
<path d="M1131.7 378.13h-8.3"/>
</g>
<g stroke="#000" stroke-width="3.1" fill="none">
<path d="M1199.3 894.4v14.4"/>
<path d="M1464.33 894.4v14.4"/>
<path d="M1709.7 894.4v14.4"/>
<path d="M1131.7 471.8h-14.4"/>
<path d="M1131.7 782.95h-14.4"/>
</g>
<g font-family='"Liberation Serif", "DejaVu Serif", serif' fill="#000" stroke="#000" stroke-width="0.14" style="font-kerning:none">
<text transform="translate(1183.27 936.1) scale(0.9759 1)" font-size="34.2">12</text>
<text transform="translate(1447.15 936.1) scale(0.9579 1)" font-size="34.2">13</text>
<text transform="translate(1693.4 936.1) scale(0.9328 1)" font-size="34.2">14</text>
<text transform="translate(1048.81 483.1) scale(0.9715 1)" font-size="33.8">10</text>
<text transform="translate(1082.3 473.1) scale(1.1986 1)" font-size="25.1">−</text>
<text transform="translate(1099.63 470.9) scale(0.9884 1)" font-size="25.1">6</text>
<text transform="translate(1048.81 794.25) scale(0.9715 1)" font-size="33.8">10</text>
<text transform="translate(1082.3 784.25) scale(1.1986 1)" font-size="25.1">−</text>
<text transform="translate(1098.98 782.05) scale(1.0420 1)" font-size="25.1">7</text>
</g>
<g font-family='"Liberation Serif", "DejaVu Serif", serif' fill="#000" stroke="#000" stroke-width="0.14" style="font-kerning:none">
<text transform="translate(1385.93 970.6) scale(1.0156 1)" font-size="32.8">Δ</text>
<text transform="translate(1408.86 970.6) scale(0.9294 1)" font-size="32.8" font-style="italic">K</text>
<text transform="translate(1439.52 970.6) scale(0.9824 1)" font-size="32.8">in</text>
<text transform="translate(1473.05 970.6) scale(1.0087 1)" font-size="32.8">MPa</text>
<text transform="translate(1540.33 971) scale(1.0090 1)" font-size="26">·</text>
<text transform="translate(1554.32 970.6) scale(0.9913 1)" font-size="32.8">m</text>
<text transform="translate(1581.15 958.4) scale(0.7016 1)" font-size="25.1">1</text>
<text transform="translate(1593.13 961.94) scale(1.0246 1)" font-family='"DejaVu Sans", "Liberation Sans", sans-serif' font-weight="200" font-size="29.69">/</text>
<text transform="translate(1604.37 958.4) scale(1.0236 1)" font-size="25.1">2</text>
</g>
<g font-family='"Liberation Serif", "DejaVu Serif", serif' fill="#000" stroke="#000" stroke-width="0.14" style="font-kerning:none" transform="translate(1035.8 746.4) rotate(-90)">
<text transform="translate(-0.42 0) scale(0.8640 1)" font-size="32.8">d</text>
<text transform="translate(13.5 0) scale(1.1276 1)" font-size="32.8" font-style="italic">a</text>
<text transform="translate(34.29 3.85) scale(0.9987 1)" font-family='"DejaVu Sans", "Liberation Sans", sans-serif' font-weight="200" font-size="39.3">/</text>
<text transform="translate(47.89 0) scale(0.8505 1)" font-size="32.8">d</text>
<text transform="translate(63.76 0) scale(1.0830 1)" font-size="32.8" font-style="italic">N</text>
<text transform="translate(98.05 0) scale(0.9372 1)" font-size="32.8">in</text>
<text transform="translate(131.7 0) scale(1.0216 1)" font-size="32.8">mm</text>
<text transform="translate(185.68 3.85) scale(1.0071 1)" font-family='"DejaVu Sans", "Liberation Sans", sans-serif' font-weight="200" font-size="39.3">/</text>
<text transform="translate(200.05 0) scale(1.0000 1)" font-size="32.8">cycle</text>
</g>
</g>
</svg></body></html>
